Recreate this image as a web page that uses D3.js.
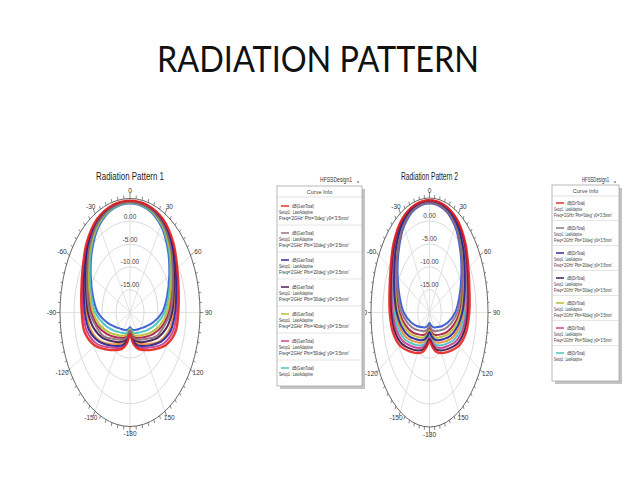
<!DOCTYPE html>
<html>
  <head>
    <title>Radiation Pattern</title>
    <style>
      body,
      html {
        margin: 0;
        padding: 0;
        background: #fff;
      }
      svg {
        display: block;
      }
      .hfss text {
        font-family: 'Liberation Sans Narrow', 'Liberation Sans', Arial, sans-serif;
      }
    </style>
  </head>
  <body>
    <svg id="svg" width="638" height="478"></svg>

    <script src="https://cdn.jsdelivr.net/npm/d3@7"></script>
    <script>
      // cut angles in degrees, 0 = top; the patterns are symmetric so the
      // negative side is the mirror of these
      const angles = [0, 15, 30, 45, 60, 75, 90, 105, 120, 135, 150, 160, 170, 180];

      // dB(GainTotal), Radiation Pattern 1 (one array per curve)
      const gainCurves = [
        [4.5, 4.35, 3.6, 1.8, -0.5, -2.0, -2.75, -3.25, -5.5, -8.5, -10.5, -11.5, -13.0, -15.25],
        [4.2, 3.9, 2.8, 0.5, -2.3, -4.2, -5.6, -7.6, -9.4, -11.8, -13.1, -13.7, -14.6, -16.0],
        [4.4, 4.2, 3.3, 1.2, -1.2, -2.9, -3.9, -4.9, -7.2, -9.8, -11.5, -12.4, -13.7, -15.6],
        [4.3, 4.0, 3.0, 0.8, -1.9, -3.8, -5.0, -6.6, -8.8, -11.1, -12.5, -13.3, -14.3, -15.9],
        [4.1, 3.8, 2.5, 0.0, -2.9, -5.1, -6.8, -9.0, -11.3, -13.1, -14.1, -14.6, -15.3, -16.3],
        [4.4, 4.25, 3.5, 1.5, -0.8, -2.4, -3.3, -4.1, -6.3, -9.2, -11.0, -11.9, -13.3, -15.4],
        [4.0, 3.6, 2.3, -0.4, -3.4, -5.7, -7.6, -10.3, -12.5, -14.0, -14.8, -15.2, -15.8, -16.5],
        [4.3, 4.1, 3.2, 1.0, -1.5, -3.3, -4.5, -5.5, -7.6, -10.2, -12.0, -12.8, -14.0, -15.7],
        [3.9, 3.5, 2.0, -0.8, -3.8, -6.3, -8.5, -11.5, -13.75, -15.0, -15.6, -15.9, -16.25, -16.75],
        [4.1, 3.8, 2.7, 0.3, -2.6, -4.7, -6.2, -8.2, -10.5, -12.4, -13.6, -14.1, -15.0, -16.2]
      ];

      // dB(DirTotal), Radiation Pattern 2
      const dirCurves = [
        [4.5, 4.3, 3.5, 1.6, -0.8, -2.3, -3.0, -3.75, -5.5, -8.0, -9.75, -10.75, -12.25, -13.75],
        [3.9, 3.55, 2.05, -0.9, -3.8, -6.1, -8.1, -10.55, -12.7, -14.4, -15.3, -15.85, -16.5, -17.15],
        [4.15, 3.85, 2.7, 0.2, -2.6, -4.5, -6.0, -7.75, -9.75, -11.75, -13.0, -13.75, -14.75, -15.75],
        [4.45, 4.2, 3.35, 1.35, -1.15, -2.75, -3.6, -4.55, -6.35, -8.75, -10.4, -11.35, -12.75, -14.15],
        [4.1, 3.75, 2.5, -0.1, -2.9, -5.0, -6.6, -8.55, -10.6, -12.5, -13.65, -14.35, -15.25, -16.15],
        [4.35, 4.1, 3.2, 1.05, -1.5, -3.2, -4.2, -5.35, -7.2, -9.5, -11.05, -11.95, -13.25, -14.55],
        [4.3, 4.05, 3.0, 0.75, -1.85, -3.65, -4.8, -6.15, -8.05, -10.25, -11.7, -12.55, -13.75, -14.95],
        [4.2, 3.95, 2.85, 0.45, -2.2, -4.1, -5.4, -6.95, -8.9, -11.0, -12.35, -13.15, -14.25, -15.35],
        [3.8, 3.4, 1.75, -1.3, -4.3, -6.8, -9.0, -11.75, -14.0, -15.5, -16.25, -16.75, -17.25, -17.75],
        [4.0, 3.65, 2.3, -0.45, -3.3, -5.45, -7.2, -9.35, -11.45, -13.25, -14.3, -14.95, -15.75, -16.55]
      ];

      const curveColors = ['#e2231e', '#8c6b7c', '#1f1f97', '#3a0f48', '#b8b82c',
        '#c8378b', '#3fc0c0', '#e48a2e', '#3053cf', '#a9173d'];

      const ringValues = [-15, -10, -5, 0];
      const ringLabels = ['-15.00', '-10.00', '-5.00', '0.00'];
      const spokeAngles = [0, 30, 60, 90, 120, 150, 180, -150, -120, -90, -60, -30];
      const spokeLabels = ['0', '30', '60', '90', '120', '150', '-180', '-150', '-120', '-90', '-60', '-30'];

      const legendPhis = ['0deg', '10deg', '20deg', '30deg', '40deg', '50deg', null];

      const svg = d3.select('#svg');
      svg.append('rect').attr('width', 638).attr('height', 478).attr('fill', '#fff');

      svg.append('text')
        .attr('x', 318)
        .attr('y', 72)
        .attr('text-anchor', 'middle')
        .attr('textLength', 322)
        .attr('lengthAdjust', 'spacingAndGlyphs')
        .style('font-family', 'Lato, "Open Sans", sans-serif')
        .style('font-size', '36px')
        .attr('fill', '#111')
        .text('RADIATION PATTERN');

      const hfss = svg.append('g').attr('class', 'hfss');
      const rScale = d3.scaleLinear().domain([-20, 5]).range([0, 1]);
      const rad = (a) => (a * Math.PI) / 180;

      const drawPolar = (p, curves, title) => {
        const g = hfss.append('g');
        const xS = d3.scaleLinear().domain([-1, 1]).range([p.cx - p.rx, p.cx + p.rx]);
        const yS = d3.scaleLinear().domain([-1, 1]).range([p.cy + p.ry, p.cy - p.ry]);
        const px = (a, r) => xS(r * Math.sin(rad(a)));
        const py = (a, r) => yS(r * Math.cos(rad(a)));

        g.append('text')
          .attr('x', p.cx)
          .attr('y', 180)
          .attr('text-anchor', 'middle')
          .attr('textLength', p.titleW)
          .attr('lengthAdjust', 'spacingAndGlyphs')
          .style('font-size', '11px')
          .attr('fill', '#222')
          .text(title);

        // spokes
        g.selectAll('.spoke')
          .data(spokeAngles)
          .join('line')
          .attr('x1', p.cx)
          .attr('y1', p.cy)
          .attr('x2', (a) => px(a, 1))
          .attr('y2', (a) => py(a, 1))
          .attr('stroke', '#dadada')
          .attr('stroke-width', 0.8);

        // rings
        g.selectAll('.ring')
          .data(ringValues)
          .join('ellipse')
          .attr('cx', p.cx)
          .attr('cy', p.cy)
          .attr('rx', (v) => xS(rScale(v)) - p.cx)
          .attr('ry', (v) => p.cy - yS(rScale(v)))
          .attr('fill', 'none')
          .attr('stroke', '#d6d6d6')
          .attr('stroke-width', 0.9);

        g.append('ellipse')
          .attr('cx', p.cx)
          .attr('cy', p.cy)
          .attr('rx', xS(1) - p.cx)
          .attr('ry', p.cy - yS(1))
          .attr('fill', 'none')
          .attr('stroke', '#555')
          .attr('stroke-width', 0.9);

        // ticks round the outer ring
        g.selectAll('.tick')
          .data(d3.range(0, 360, 5))
          .join('line')
          .attr('x1', (a) => px(a, 1))
          .attr('y1', (a) => py(a, 1))
          .attr('x2', (a) => px(a, a % 30 === 0 ? 1.05 : 1.03))
          .attr('y2', (a) => py(a, a % 30 === 0 ? 1.05 : 1.03))
          .attr('stroke', '#555')
          .attr('stroke-width', 0.7);

        // curves
        const line = d3
          .line()
          .x((d) => px(d.a, rScale(d.v)))
          .y((d) => py(d.a, rScale(d.v)))
          .curve(d3.curveCatmullRomClosed.alpha(0.5));
        const loops = curves.map((vals, k) => {
          const half = angles.map((a, i) => ({ a: a, v: vals[i] }));
          const mirror = half.slice(1, -1).reverse().map((d) => ({ a: -d.a, v: d.v }));
          return { k: k, pts: half.concat(mirror) };
        });
        g.selectAll('.curve')
          .data(loops.slice().reverse())
          .join('path')
          .attr('d', (d) => line(d.pts))
          .attr('fill', 'none')
          .attr('stroke', (d) => curveColors[d.k])
          .attr('stroke-width', (d) => (d.k === 0 ? 2.4 : 2.0))
          .attr('stroke-opacity', 0.9);

        // ring labels
        g.selectAll('.rlab')
          .data(ringValues)
          .join('text')
          .attr('x', p.cx)
          .attr('y', (v) => yS(rScale(v)) - 2.5)
          .attr('text-anchor', 'middle')
          .style('font-size', '6.5px')
          .attr('fill', '#444')
          .text((v, i) => ringLabels[i]);

        // angle labels
        g.selectAll('.alab')
          .data(spokeAngles)
          .join('text')
          .attr('x', (a) => px(a, 1) + 8.5 * Math.sin(rad(a)))
          .attr('y', (a) => py(a, 1) - 7.5 * Math.cos(rad(a)) + 2.2)
          .attr('text-anchor', 'middle')
          .style('font-size', '6.5px')
          .attr('fill', '#333')
          .text((a, i) => spokeLabels[i]);
      };

      const drawLegend = (l, name) => {
        const g = hfss.append('g');
        g.append('text')
          .attr('x', l.x + l.w - 10)
          .attr('y', 182)
          .attr('text-anchor', 'end')
          .attr('textLength', l.designW)
          .attr('lengthAdjust', 'spacingAndGlyphs')
          .style('font-size', '7px')
          .attr('fill', '#333')
          .text('HFSSDesign1');
        g.append('circle')
          .attr('cx', l.x + l.w - 4)
          .attr('cy', 182)
          .attr('r', 0.8)
          .attr('fill', '#333');

        g.append('rect')
          .attr('x', l.x + 3)
          .attr('y', l.y + 3)
          .attr('width', l.w)
          .attr('height', l.h)
          .attr('fill', '#c4c4c4');
        g.append('rect')
          .attr('x', l.x)
          .attr('y', l.y)
          .attr('width', l.w)
          .attr('height', l.h)
          .attr('fill', '#fff')
          .attr('stroke', '#9a9a9a')
          .attr('stroke-width', 0.7);
        g.append('text')
          .attr('x', l.x + l.w / 2)
          .attr('y', l.y + 7.5)
          .attr('text-anchor', 'middle')
          .style('font-size', '5.5px')
          .attr('fill', '#444')
          .text('Curve Info');
        g.append('line')
          .attr('x1', l.x)
          .attr('x2', l.x + l.w)
          .attr('y1', l.y + 11)
          .attr('y2', l.y + 11)
          .attr('stroke', '#cfcfcf')
          .attr('stroke-width', 0.6);

        legendPhis.forEach((phi, i) => {
          const y0 = l.first + i * l.step;
          g.append('line')
            .attr('x1', l.x + 4)
            .attr('x2', l.x + 12)
            .attr('y1', y0)
            .attr('y2', y0)
            .attr('stroke', curveColors[i])
            .attr('stroke-width', 1.4);
          g.append('text')
            .attr('x', l.x + 15)
            .attr('y', y0 + 2)
            .attr('textLength', l.nameW)
            .attr('lengthAdjust', 'spacingAndGlyphs')
            .style('font-size', l.fs + 'px')
            .attr('fill', '#333')
            .text(name);
          g.append('text')
            .attr('x', l.x + 2)
            .attr('y', y0 + 8)
            .attr('textLength', l.setupW)
            .attr('lengthAdjust', 'spacingAndGlyphs')
            .style('font-size', l.fs + 'px')
            .attr('fill', '#333')
            .text('Setup1 : LastAdaptive');
          if (phi) {
            g.append('text')
              .attr('x', l.x + 2)
              .attr('y', y0 + 13.5)
              .attr('textLength', l.freqW)
              .attr('lengthAdjust', 'spacingAndGlyphs')
              .style('font-size', l.fs + 'px')
              .attr('fill', '#333')
              .text("Freq='2GHz' Phi='" + phi + "' y0='3.5mm'");
            g.append('line')
              .attr('x1', l.x)
              .attr('x2', l.x + l.w)
              .attr('y1', y0 + l.sep)
              .attr('y2', y0 + l.sep)
              .attr('stroke', '#d4d4d4')
              .attr('stroke-width', 0.6);
          }
        });
      };

      drawPolar({ cx: 130, cy: 312.5, rx: 70, ry: 114, titleW: 68 }, gainCurves, 'Radiation Pattern 1');
      drawPolar({ cx: 429.5, cy: 312.5, rx: 58.5, ry: 114.5, titleW: 57 }, dirCurves, 'Radiation Pattern 2');

      drawLegend(
        { x: 277, y: 186, w: 85, h: 200, first: 206, step: 27, sep: 19, fs: 5.8,
          designW: 32, nameW: 22, setupW: 34, freqW: 70 },
        'dB(GainTotal)'
      );
      drawLegend(
        { x: 552, y: 185, w: 67, h: 196, first: 203, step: 25, sep: 17.5, fs: 4.8,
          designW: 27, nameW: 18, setupW: 28, freqW: 58 },
        'dB(DirTotal)'
      );
    </script>
  </body>
</html>
